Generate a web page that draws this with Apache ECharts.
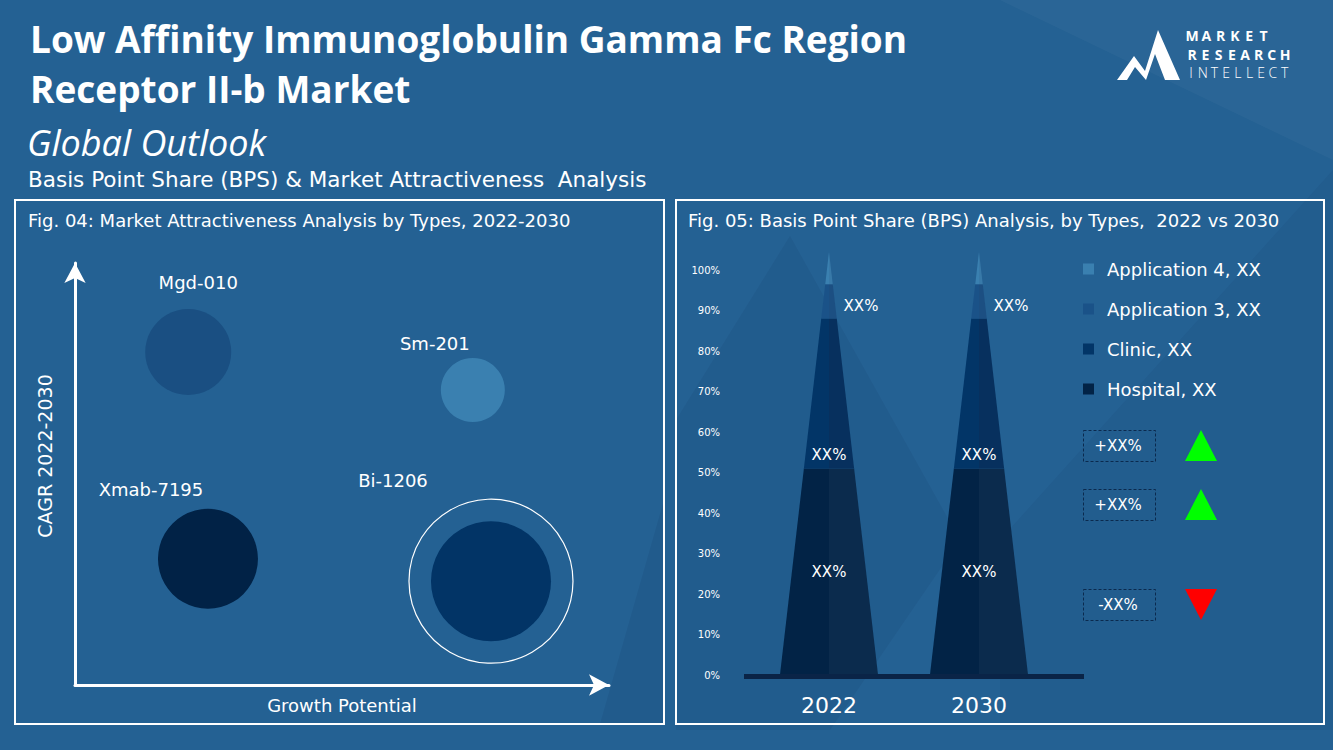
<!DOCTYPE html>
<html>
<head>
<meta charset="utf-8">
<script src="https://cdn.jsdelivr.net/npm/echarts@6/dist/echarts.min.js"></script>
<style>
html,body{margin:0;padding:0;background:#246193;}
#c{width:1333px;height:750px;}
</style>
</head>
<body>
<div id="c"></div>
<script>
// ---------- data ----------
const bubbleNames = ['Mgd-010', 'Sm-201', 'Xmab-7195', 'Bi-1206'];
const growthPotential = [21.2, 74.5, 24.9, 77.9];
const cagr = [78.9, 69.9, 29.9, 24.6];
const bubbleSize = [86, 64, 100, 120];
const highlightSize = 164;

const years = ['2022', '2030'];
const hospital = [51, 51];
const clinic = [37, 37];
const application3 = [8.5, 8.5];
const application4 = [8, 8];
const changeLabels = ['+XX%', '+XX%', '-XX%'];

// ---------- styling ----------
const FONT = '"DejaVu Sans", sans-serif';
const TFONT = '"Open Sans", sans-serif';
const bubbleColors = ['#1a4f82', '#3a80b0', '#012246', '#023466'];
const bubbleLabelOffsets = [[10, -13], [-38, -1], [-57, -5], [-98, -27]];

const segs = [
  {name: 'Hospital', vals: hospital, colors: ['#022346', '#0b2b4d'], label: 'mid'},
  {name: 'Clinic', vals: clinic, colors: ['#023567', '#07305e'], label: 'low'},
  {name: 'Application 3', vals: application3, colors: ['#1a5288', '#1c4f82'], label: 'right'},
  {name: 'Application 4', vals: application4, colors: ['#3a80b0', '#3879a8'], label: null}
];

const totals = years.map((_, i) => segs.reduce((s, g) => s + g.vals[i], 0));
const stackSeries = [];
const running = years.map(() => 0);
segs.forEach(g => {
  const data = years.map((_, i) => {
    const lo = running[i];
    running[i] += g.vals[i];
    return [i, lo, running[i], totals[i]];
  });
  stackSeries.push({
    type: 'custom',
    name: g.name,
    xAxisIndex: 1, yAxisIndex: 1,
    clip: false,
    itemStyle: {color: g.colors[0]},
    data: data,
    renderItem: function (params, api) {
      const i = api.value(0), lo = api.value(1), hi = api.value(2), tot = api.value(3);
      const base = api.coord([i, 0]);
      const cx = base[0], yBase = base[1];
      const yTop = api.coord([i, tot])[1];
      const hwBase = api.size([1, 0])[0] * 0.327;
      const hw = y => hwBase * (y - yTop) / (yBase - yTop);
      const y1 = api.coord([i, lo])[1], y2 = api.coord([i, hi])[1];
      const children = [
        {type: 'polygon', shape: {points: [[cx - hw(y1), y1], [cx, y1], [cx, y2], [cx - hw(y2), y2]]},
          style: {fill: g.colors[0]}},
        {type: 'polygon', shape: {points: [[cx, y1], [cx + hw(y1), y1], [cx + hw(y2), y2], [cx, y2]]},
          style: {fill: g.colors[1]}}
      ];
      if (g.label) {
        let tx = cx, ty = (y1 + y2) / 2;
        if (g.label === 'low') ty = y1 - 13;
        if (g.label === 'right') { tx = cx + 32; ty += 5; }
        children.push({type: 'text', x: tx, y: ty, style: {
          text: 'XX%', fill: '#fff', font: '15px ' + FONT, align: 'center', verticalAlign: 'middle'}});
      }
      return {type: 'group', children: children};
    }
  });
});

// ---------- graphics (decoration, titles, logo) ----------
const W = '#ffffff';
const graphic = [
  // subtle background shapes
  {type: 'polygon', silent: true, z: -10, shape: {points: [[790, 236], [960, 540], [830, 730], [676, 730], [676, 420]]}, style: {fill: 'rgba(0,20,50,0.06)'}},
  {type: 'polygon', silent: true, z: -10, shape: {points: [[1333, 170], [1333, 730], [1000, 730], [1000, 540]]}, style: {fill: 'rgba(0,20,50,0.05)'}},
  {type: 'polygon', silent: true, z: -10, shape: {points: [[664, 500], [664, 724], [600, 724]]}, style: {fill: 'rgba(0,20,50,0.07)'}},
  {type: 'polygon', silent: true, z: -10, shape: {points: [[1000, 0], [1333, 0], [1333, 160]]}, style: {fill: 'rgba(255,255,255,0.03)'}},
  // panels
  {type: 'rect', shape: {x: 15, y: 200, width: 649, height: 524}, style: {fill: 'none', stroke: W, lineWidth: 2}},
  {type: 'rect', shape: {x: 676, y: 200, width: 648, height: 524}, style: {fill: 'none', stroke: W, lineWidth: 2}},
  // titles
  {type: 'text', x: 30, y: 38, style: {text: 'Low Affinity Immunoglobulin Gamma Fc Region', fill: W, font: 'bold 37px ' + TFONT, verticalAlign: 'middle'}},
  {type: 'text', x: 30, y: 88, style: {text: 'Receptor II-b Market', fill: W, font: 'bold 37px ' + TFONT, verticalAlign: 'middle'}},
  {type: 'text', x: 27, y: 142, style: {text: 'Global Outlook', fill: W, font: 'italic 400 36px ' + TFONT, verticalAlign: 'middle'}},
  {type: 'text', x: 28, y: 179, style: {text: 'Basis Point Share (BPS) & Market Attractiveness  Analysis', fill: W, font: '21.5px ' + FONT, verticalAlign: 'middle'}},
  {type: 'text', x: 28, y: 220, style: {text: 'Fig. 04: Market Attractiveness Analysis by Types, 2022-2030', fill: W, font: '18px ' + FONT, verticalAlign: 'middle'}},
  {type: 'text', x: 688, y: 220, style: {text: 'Fig. 05: Basis Point Share (BPS) Analysis, by Types,  2022 vs 2030', fill: W, font: '18px ' + FONT, verticalAlign: 'middle'}},
  // logo mark
  {type: 'polygon', shape: {points: [[1117, 80], [1134, 56], [1145, 71], [1158, 30], [1180, 80], [1165, 80], [1155, 54], [1146, 80], [1135, 67], [1127, 80]]}, style: {fill: W}},
  // baseline of pyramid chart
  {type: 'rect', z: 10, shape: {x: 744, y: 674, width: 340, height: 5}, style: {fill: '#0a2447'}}
];
// logo words, letters spread evenly
[['MARKET', 35, 1192, 14.3, 'bold'], ['RESEARCH', 54, 1192, 13.3, 'bold'], ['INTELLECT', 72, 1191, 11.7, '300']].forEach(w => {
  w[0].split('').forEach((ch, k) => {
    graphic.push({type: 'text', x: w[2] + k * w[3], y: w[1], style: {text: ch, fill: W,
      font: w[4] + ' 14px ' + TFONT, align: 'center', verticalAlign: 'middle'}});
  });
});
const boxYs = [430, 489, 589];
changeLabels.forEach((t, k) => {
  const y = boxYs[k];
  graphic.push({type: 'rect', shape: {x: 1083.5, y: y + 0.5, width: 72, height: 31}, style: {fill: 'none', stroke: '#0b2a4e', lineWidth: 1, lineDash: [3, 2]}});
  graphic.push({type: 'text', x: 1118, y: y + 16, style: {text: t, fill: W, font: '15px ' + FONT, align: 'center', verticalAlign: 'middle'}});
  const up = t.charAt(0) === '+';
  graphic.push({type: 'polygon', shape: {points: up ? [[1201, y], [1217, y + 31], [1185, y + 31]] : [[1185, y], [1217, y], [1201, y + 31]]},
    style: {fill: up ? '#00ff00' : '#ff0000'}});
});

// ---------- option ----------
const option = {
  backgroundColor: '#246193',
  animation: false,
  textStyle: {fontFamily: FONT},
  grid: [
    {left: 75, top: 263, width: 534, height: 422},
    {left: 754, top: 270, width: 300, height: 405}
  ],
  xAxis: [
    {type: 'value', gridIndex: 0, min: 0, max: 100,
      name: 'Growth Potential', nameLocation: 'middle', nameGap: 11,
      nameTextStyle: {color: W, fontSize: 18, fontFamily: FONT, verticalAlign: 'top'},
      axisLine: {show: true, symbol: ['none', 'arrow'], symbolSize: [16, 20], lineStyle: {color: W, width: 3}},
      axisTick: {show: false}, axisLabel: {show: false}, splitLine: {show: false}},
    {type: 'category', gridIndex: 1, data: years,
      axisLine: {show: false}, axisTick: {show: false},
      axisLabel: {color: W, fontSize: 22, margin: 19, fontFamily: FONT}}
  ],
  yAxis: [
    {type: 'value', gridIndex: 0, min: 0, max: 100,
      name: 'CAGR 2022-2030', nameLocation: 'middle', nameGap: 21, nameRotate: 90,
      nameTextStyle: {color: W, fontSize: 19, fontFamily: FONT, padding: [0, 0, 0, 36]},
      axisLine: {show: true, symbol: ['none', 'arrow'], symbolSize: [16, 20], lineStyle: {color: W, width: 3}},
      axisTick: {show: false}, axisLabel: {show: false}, splitLine: {show: false}},
    {type: 'value', gridIndex: 1, min: 0, max: 100, interval: 10,
      axisLine: {show: false}, axisTick: {show: false}, splitLine: {show: false},
      axisLabel: {color: W, fontSize: 10, margin: 34, formatter: '{value}%', fontFamily: FONT}}
  ],
  legend: {
    orient: 'vertical', left: 1083, top: 260, itemGap: 22, padding: 0,
    itemWidth: 11, itemHeight: 11, icon: 'rect',
    data: ['Application 4', 'Application 3', 'Clinic', 'Hospital'],
    formatter: n => n + ', XX',
    textStyle: {color: W, fontSize: 18, lineHeight: 18, padding: [0, 0, 0, 8], fontFamily: FONT}
  },
  graphic: graphic,
  series: [
    {type: 'scatter', xAxisIndex: 0, yAxisIndex: 0, silent: true,
      data: bubbleNames.map((n, k) => ({
        name: n, value: [growthPotential[k], cagr[k]], symbolSize: bubbleSize[k],
        itemStyle: {color: bubbleColors[k], opacity: 1},
        label: {show: true, position: 'top', formatter: '{b}', offset: bubbleLabelOffsets[k],
          color: W, fontSize: 18, fontFamily: FONT}
      }))},
    {type: 'scatter', xAxisIndex: 0, yAxisIndex: 0, silent: true, symbolSize: highlightSize,
      data: [[growthPotential[3], cagr[3]]],
      itemStyle: {color: 'rgba(0,0,0,0)', borderColor: W, borderWidth: 1.2, opacity: 1}}
  ].concat(stackSeries)
};

const chart = echarts.init(document.getElementById('c'), null, {renderer: 'svg', width: 1333, height: 750});
chart.setOption(option);
</script>
</body>
</html>
